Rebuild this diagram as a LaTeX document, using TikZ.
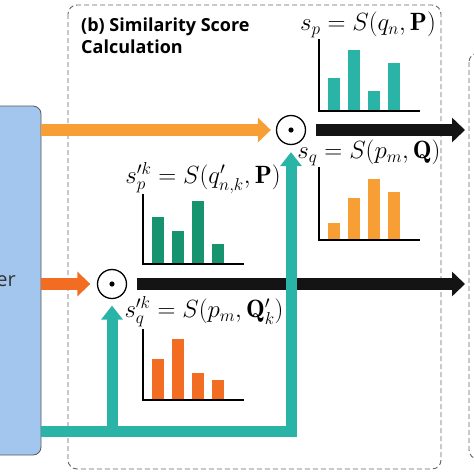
\documentclass[tikz,border=0pt]{standalone}
\usepackage{amsmath}
\usepackage{fontspec}
\setsansfont{Open Sans}
\usepackage{xcolor}
\usetikzlibrary{positioning, arrows.meta, calc}

\definecolor{simteal}{HTML}{2AB3A7}
\definecolor{simgreen}{HTML}{16936F}
\definecolor{orangep}{HTML}{F79E34}
\definecolor{orangeq}{HTML}{F26D22}
\definecolor{encblue}{HTML}{A3C6EE}

\begin{document}
\begin{tikzpicture}[
    x=1pt, y=-1pt,
    every node/.style={inner sep=0pt},
    bigarrow/.style={line width=12pt, -{Triangle[length=13pt, width=24pt]}},
    tealarrow/.style={line width=11pt, draw=simteal, line join=miter, -{Triangle[length=14pt, width=21pt]}},
    dotnode/.style={circle, draw, line width=1.3pt, minimum size=29pt,
        path picture={\fill (path picture bounding box.center) circle (2.6pt);}},
    frame/.style={draw=black!60, dash pattern=on 5pt off 3pt, line width=0.9pt, rounded corners=9pt},
    eq/.style={font=\fontsize{25}{28}\selectfont},
    chartaxis/.style={line width=1.2pt, line cap=rect}
]
    \useasboundingbox (0,0) rectangle (474,474);

    \draw[frame] (68,5) rectangle (441,469);
    \draw[frame] (469,53) rectangle (530,459);

    \node[draw=black!65, fill=encblue, rounded corners=8pt, line width=0.8pt,
        minimum width=61pt, minimum height=349pt] (enc) at (10.5,280.5) {};
    \node[anchor=east, font=\sffamily\fontsize{20}{24}\selectfont, text=black!80] (enctext) at (16,281) {er};

    \node[anchor=north west, align=left, font=\sffamily\bfseries\fontsize{18}{22}\selectfont] (title) at (81,18)
        {(b) Similarity Score\\Calculation};

    \node[dotnode] (dotp) at (291,130) {};
    \node[dotnode] (dotq) at (112,284) {};
    \coordinate (outp) at (465,130);
    \coordinate (outq) at (465,284);
    \coordinate (tealturn) at (291,431);

    % score charts
    \foreach \x/\t in {328/78, 348/50, 368/91, 388/63}
        \fill[simteal] (\x,111) rectangle (\x+12,\t);
    \draw[chartaxis] (319,40) |- (419,111);
    \foreach \x/\t in {328/223, 348/198, 368/179, 388/192}
        \fill[orangep] (\x,240) rectangle (\x+12,\t);
    \draw[chartaxis] (319,168) |- (419,240);
    \foreach \x/\t in {152/217, 172/231, 192/201, 212/244}
        \fill[simgreen] (\x,264) rectangle (\x+12,\t);
    \draw[chartaxis] (143,195) |- (243,264);
    \foreach \x/\t in {152/359, 172/339, 192/373, 212/380}
        \fill[orangeq] (\x,400) rectangle (\x+12,\t);
    \draw[chartaxis] (143,330) |- (243,400);

    \node[eq] (sp) at (368,25) {$s_p = S(q_n, \mathbf{P})$};
    \node[eq] (sq) at (369,153) {$s_q = S(p_m, \mathbf{Q})$};
    \node[eq] (spk) at (203,178) {$s'^{k}_p = S(q'_{n,k}, \mathbf{P})$};
    \node[eq] (sqk) at (204,312) {$s'^{k}_q = S(p_m, \mathbf{Q}'_k)$};

    \draw[bigarrow, draw=orangep, shorten >=5pt] (enc.east |- dotp) -- (dotp.west);
    \draw[bigarrow, draw=orangeq, shorten >=6.5pt] (enc.east |- dotq) -- (dotq.west);
    \draw[bigarrow, draw=black!92, shorten <=9.5pt] (dotp.east) -- (outp);
    \draw[bigarrow, draw=black!92, shorten <=9.5pt] (dotq.east) -- (outq);

    \draw[tealarrow, shorten >=7pt] (enc.east |- tealturn) -- (tealturn) -- (dotp.south);
    \draw[tealarrow, shorten >=6.5pt] (dotq.south |- tealturn) -- (dotq.south);
\end{tikzpicture}
\end{document}
